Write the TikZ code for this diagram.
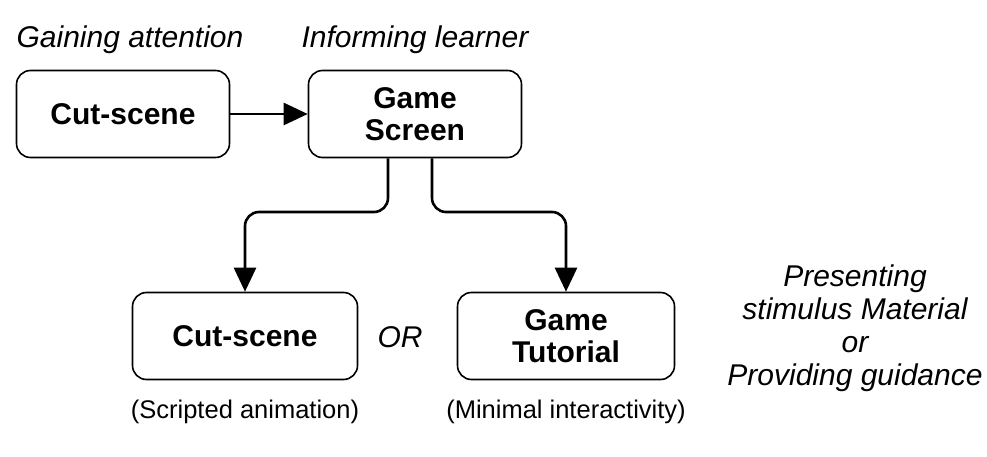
\documentclass[tikz,border=0pt]{standalone}
\usepackage{fontspec}
\setmainfont{Liberation Sans}
\usetikzlibrary{arrows.meta}
\begin{document}
\begin{tikzpicture}[x=1pt,y=-1pt,
  box/.style={draw,line width=1.6pt,rounded corners=14pt,minimum width=213pt,minimum height=87pt,align=center,font=\fontsize{30}{32}\selectfont\bfseries},
  lbl/.style={font=\fontsize{30}{32}\selectfont\itshape,align=center},
  sub/.style={font=\fontsize{25.5}{28}\selectfont},
  arr/.style={line width=2.6pt,rounded corners=14pt,-{Triangle[length=24pt,width=22pt]}}]
\useasboundingbox (0,0) rectangle (987,457);
\node[box] (c1) at (123,114) {Cut-scene};
\node[box] (gs) at (415,114) {Game\\Screen};
\node[box,minimum width=225pt] (c2) at (245,336) {Cut-scene};
\node[box,minimum width=217pt] (gt) at (566,336) {Game\\Tutorial};
\node[lbl] (l1) at (130,40) {Gaining attention};
\node[lbl] (l2) at (415,40) {Informing learner};
\node[lbl] (or) at (400,337) {OR};
\node[lbl,font=\fontsize{30}{33}\selectfont\itshape] (l3) at (855,328) {Presenting\\stimulus Material\\or\\Providing guidance};
\node[sub] (s1) at (245,412) {(Scripted animation)};
\node[sub] (s2) at (566,412) {(Minimal interactivity)};
\draw[arr] (c1.east) -- (gs.west);
\draw[arr] (gs.south -| 388,0) |- (320,212) -| (c2.north);
\draw[arr] (gs.south -| 432,0) |- (500,212) -| (gt.north);
\end{tikzpicture}
\end{document}
